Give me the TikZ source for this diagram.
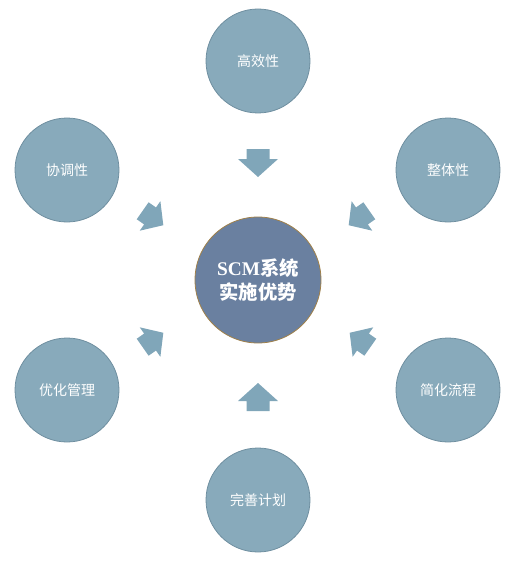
\documentclass[tikz,border=0pt]{standalone}
\usepackage{fontspec}
\setmainfont{Liberation Serif}
\newfontfamily\cjk{Noto Sans CJK SC}
\usepackage{xcolor}
\definecolor{outerfill}{HTML}{88AABB}
\definecolor{outerline}{HTML}{6F8FA0}
\definecolor{corefill}{HTML}{6A80A0}
\definecolor{coreline}{HTML}{A0804A}
\definecolor{arrowfill}{HTML}{80A6B9}
\usepackage{tikz}
\usetikzlibrary{calc}

\tikzset{
  blockarr/.pic = {\fill[arrowfill] (-11.5,-14) -- (11.5,-14) -- (11.5,-4) -- (20,-4)
                    -- (0,14) -- (-20,-4) -- (-11.5,-4) -- cycle;}
}

\begin{document}
\begin{tikzpicture}[
  x=0.75pt, y=-0.75pt,
  outer/.style = {circle, draw=outerline, fill=outerfill, line width=0.6pt,
                  minimum size=78pt, inner sep=0pt, text=white,
                  font=\cjk\fontsize{10.5}{12}\selectfont},
  core/.style  = {circle, draw=coreline, fill=corefill, line width=0.6pt,
                  minimum size=94.5pt, inner sep=0pt, text=white, align=center,
                  font=\bfseries\fontsize{14.5}{18.5}\selectfont}
]
\useasboundingbox (0,0) rectangle (514,563);

% ── CENTRE ──────────────────────────────────────────────
\node[core] (core) at (258,280) {SCM{\cjk\bfseries 系统}\\{\cjk\bfseries 实施优势}};

% ── OUTER CIRCLES ───────────────────────────────────────
\node[outer] (eff)  at (258,61)  {高效性};
\node[outer] (coor) at (67,170)  {协调性};
\node[outer] (whol) at (448,170) {整体性};
\node[outer] (mgmt) at (67,390)  {优化管理};
\node[outer] (flow) at (448,390) {简化流程};
\node[outer] (plan) at (258,500) {完善计划};

% ── ARROWS ──────────────────────────────────────────────
\pic at (258,163) {blockarr};
\pic[rotate=180] at (258,397) {blockarr};
\pic[rotate=55,  scale=0.9] at (153,218) {blockarr};
\pic[rotate=-55, scale=0.9] at (359,218) {blockarr};
\pic[rotate=125, scale=0.9] at (153,340) {blockarr};
\pic[rotate=235, scale=0.9] at (360,340) {blockarr};

\end{tikzpicture}
\end{document}
